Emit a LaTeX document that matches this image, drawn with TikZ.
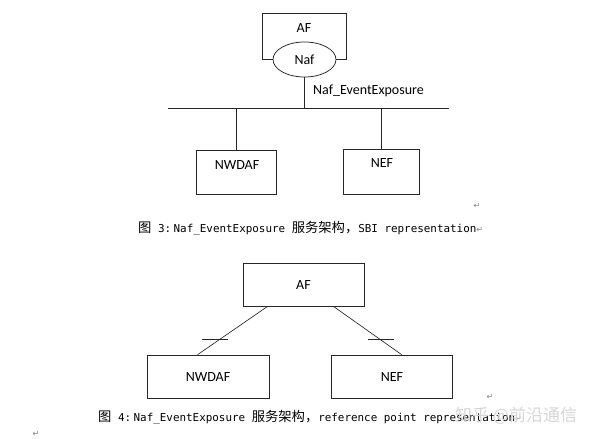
\documentclass[tikz,border=0pt]{standalone}
\usepackage{fontspec}
\setmainfont{Carlito}
\newfontfamily\capmono{DejaVu Sans Mono}
\newfontfamily\cjk{Noto Sans CJK SC}
\newfontfamily\dejavu{DejaVu Sans}
\usetikzlibrary{shapes.geometric}
\newcommand{\zh}[1]{{\cjk\fontsize{13.3}{14}\selectfont #1}}
\newcommand{\retmark}{{\dejavu\fontsize{8}{8}\selectfont\color{gray}↵}}
\begin{document}
\begin{tikzpicture}[x=1pt,y=-1pt,
  ln/.style={draw=black!85,line width=0.75pt},
  box/.style={ln,rectangle,inner sep=0pt},
  lbl/.style={font=\fontsize{14}{16}\selectfont,inner sep=0pt},
  captext/.style={font=\capmono\fontsize{10.9}{13}\selectfont,anchor=west,inner sep=0pt,text=black},
  retnode/.style={inner sep=0pt}]
\useasboundingbox[fill=white] (0,0) rectangle (595,439);

% ---------- Figure 3 ----------
\node[ln,ellipse,minimum width=63pt,minimum height=35pt,inner sep=0pt] (naf) at (304.5,59.5) {};
\node[lbl] (naft) at (304.5,60) {Naf};
\coordinate (afTL) at (262,13);
\coordinate (afTR) at (346,13);
\draw[ln] (naf.west) -| (afTL) -- (afTR) |- (naf.east);
\node[lbl] (aft) at (304,28) {AF};

\coordinate (busL) at (168,108);
\coordinate (busR) at (449,108);
\draw[ln] (busL) -- (busR);
\draw[ln] (naf.south) -- (naf.south |- busL);
\node[lbl,anchor=west] (nafee) at (313,91) {Naf\_EventExposure};

\node[box,minimum width=80pt,minimum height=44pt] (nwdaf) at (236,172) {};
\node[lbl] (nwdaft) at (237,165) {NWDAF};
\node[box,minimum width=76pt,minimum height=45pt] (nef) at (381.5,171.5) {};
\node[lbl] (neft) at (382,163) {NEF};
\draw[ln] (nwdaf.north) -- (nwdaf.north |- busL);
\draw[ln] (nef.north) -- (nef.north |- busL);

\node[retnode] (rm1) at (477,206) {\retmark};
\node[captext] (cap1) at (138,228) {\zh{图}~3:\hspace{2.5pt}Naf\_EventExposure~\zh{服务架构，}SBI~representation\retmark};

% ---------- Figure 4 ----------
\node[box,minimum width=121pt,minimum height=43pt] (af2) at (303.5,284.5) {};
\node[lbl] (af2t) at (303.5,285) {AF};
\node[box,minimum width=122pt,minimum height=43pt] (nwdaf2) at (208,376.5) {};
\node[lbl] (nwdaf2t) at (208,377) {NWDAF};
\node[box,minimum width=121pt,minimum height=43pt] (nef2) at (391.5,376.5) {};
\node[lbl] (nef2t) at (392,377) {NEF};

\coordinate (la) at ([xshift=25pt]af2.south west);
\coordinate (lb) at ([xshift=51pt]nwdaf2.north west);
\coordinate (ra) at ([xshift=-31pt]af2.south east);
\coordinate (rb) at ([xshift=71pt]nef2.north west);
\draw[ln,line width=0.65pt] (la) -- (lb) coordinate[pos=0.673] (t1);
\draw[ln,line width=0.65pt] (ra) -- (rb) coordinate[pos=0.673] (t2);
\draw[ln,line width=0.65pt] ([xshift=-19pt]t1) -- ([xshift=7pt]t1);
\draw[ln,line width=0.65pt] ([xshift=-11.5pt]t2) -- ([xshift=14.5pt]t2);

\node[retnode] (rm2) at (490,397) {\retmark};
\node[captext] (cap2) at (98,417) {\zh{图}~4:\hspace{2.5pt}Naf\_EventExposure~\zh{服务架构，}reference~point~representation\retmark};
\node[retnode] (rm3) at (36,434) {\retmark};

% watermark
\node[inner sep=0pt,anchor=west,text=black!16,font=\cjk\fontsize{17}{18}\selectfont] (wm) at (455,416) {知乎 @前沿通信};
\end{tikzpicture}
\end{document}
